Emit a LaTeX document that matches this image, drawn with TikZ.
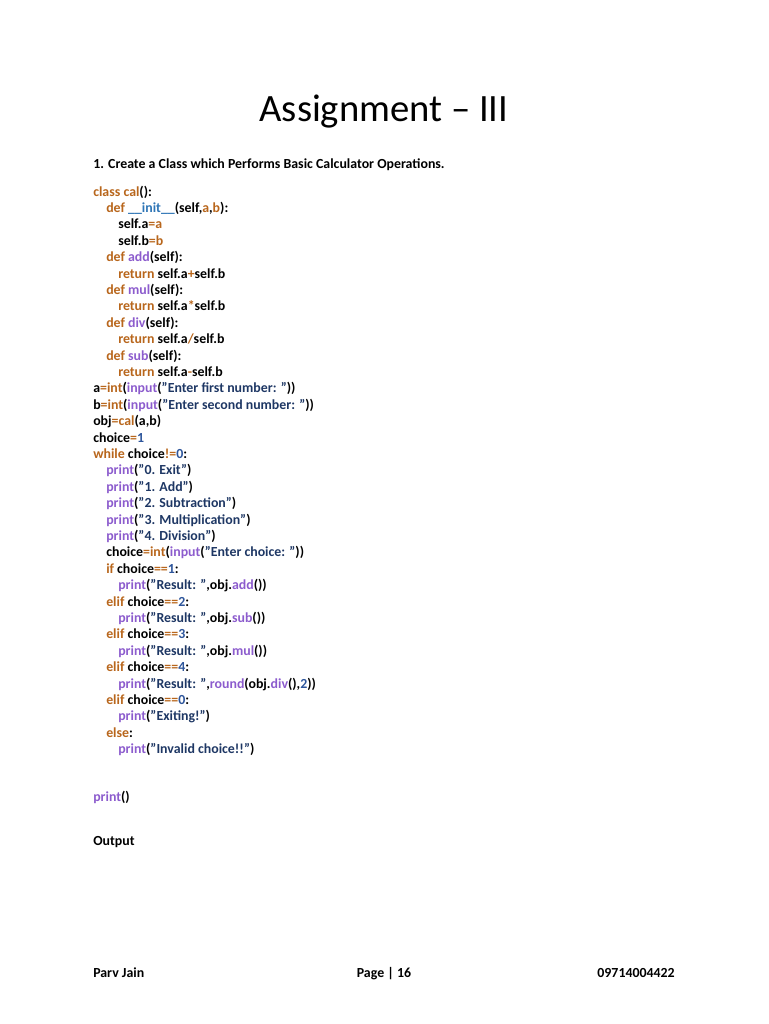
\documentclass[tikz,border=0pt]{standalone}
\usepackage{fontspec}
\setmainfont{Carlito}
\definecolor{kwc}{RGB}{184,102,28}
\definecolor{fnc}{RGB}{140,92,205}
\definecolor{stc}{RGB}{30,55,100}
\definecolor{nmc}{RGB}{45,85,155}
\definecolor{ibc}{RGB}{46,117,182}
\newcommand{\kw}[1]{\textcolor{kwc}{#1}}
\newcommand{\fn}[1]{\textcolor{fnc}{#1}}
\newcommand{\st}[1]{\textcolor{stc}{#1}}
\newcommand{\nm}[1]{\textcolor{nmc}{#1}}
\newcommand{\ib}[1]{\textcolor{ibc}{#1}}
\begin{document}
\begin{tikzpicture}[x=0.75pt,y=-0.75pt,
  code/.style={anchor=base west,inner sep=0,font=\fontsize{10.4}{12}\selectfont\bfseries}]
\useasboundingbox (0,0) rectangle (768,1024);
\node[anchor=base,inner sep=0,font=\fontsize{29}{32}\selectfont] (title) at (384,121) {Assignment – III};
\node[code] (q) at (93,168) {1. Create a Class which Performs Basic Calculator Operations.};
\def\a{93}\def\b{106}\def\c{118}
\node[code] (l1) at (\a,196) {\kw{class cal}():};
\node[code] (l2) at (\b,212.4) {\kw{def} \ib{\_\_init\_\_}(self,\kw{a},\kw{b}):};
\node[code] (l3) at (\c,228.8) {self.a\kw{=a}};
\node[code] (l4) at (\c,245.2) {self.b\kw{=b}};
\node[code] (l5) at (\b,261.6) {\kw{def} \fn{add}(self):};
\node[code] (l6) at (\c,278) {\kw{return} self.a\kw{+}self.b};
\node[code] (l7) at (\b,294.4) {\kw{def} \fn{mul}(self):};
\node[code] (l8) at (\c,310.8) {\kw{return} self.a\kw{*}self.b};
\node[code] (l9) at (\b,327.2) {\kw{def} \fn{div}(self):};
\node[code] (l10) at (\c,343.6) {\kw{return} self.a\kw{/}self.b};
\node[code] (l11) at (\b,360) {\kw{def} \fn{sub}(self):};
\node[code] (l12) at (\c,376.4) {\kw{return} self.a\kw{-}self.b};
\node[code] (l13) at (\a,392.8) {a\kw{=int}(\fn{input}(\st{"Enter first number: "}))};
\node[code] (l14) at (\a,409.2) {b\kw{=int}(\fn{input}(\st{"Enter second number: "}))};
\node[code] (l15) at (\a,425.6) {obj\kw{=cal}(a,b)};
\node[code] (l16) at (\a,442) {choice\kw{=}\nm{1}};
\node[code] (l17) at (\a,458.4) {\kw{while} choice\kw{!=}\nm{0}:};
\node[code] (l18) at (\b,474.8) {\fn{print}(\st{"0. Exit"})};
\node[code] (l19) at (\b,491.2) {\fn{print}(\st{"1. Add"})};
\node[code] (l20) at (\b,507.6) {\fn{print}(\st{"2. Subtraction"})};
\node[code] (l21) at (\b,524) {\fn{print}(\st{"3. Multiplication"})};
\node[code] (l22) at (\b,540.4) {\fn{print}(\st{"4. Division"})};
\node[code] (l23) at (\b,556.8) {choice\kw{=int}(\fn{input}(\st{"Enter choice: "}))};
\node[code] (l24) at (\b,573.2) {\kw{if} choice\kw{==}\nm{1}:};
\node[code] (l25) at (\c,589.6) {\fn{print}(\st{"Result: "},obj.\fn{add}())};
\node[code] (l26) at (\b,606) {\kw{elif} choice\kw{==}\nm{2}:};
\node[code] (l27) at (\c,622.4) {\fn{print}(\st{"Result: "},obj.\fn{sub}())};
\node[code] (l28) at (\b,638.8) {\kw{elif} choice\kw{==}\nm{3}:};
\node[code] (l29) at (\c,655.2) {\fn{print}(\st{"Result: "},obj.\fn{mul}())};
\node[code] (l30) at (\b,671.6) {\kw{elif} choice\kw{==}\nm{4}:};
\node[code] (l31) at (\c,688) {\fn{print}(\st{"Result: "},\fn{round}(obj.\fn{div}(),\nm{2}))};
\node[code] (l32) at (\b,704.4) {\kw{elif} choice\kw{==}\nm{0}:};
\node[code] (l33) at (\c,720.8) {\fn{print}(\st{"Exiting!"})};
\node[code] (l34) at (\b,737.2) {\kw{else}:};
\node[code] (l35) at (\c,753.6) {\fn{print}(\st{"Invalid choice!!"})};
\node[code] (l36) at (\a,801) {\fn{print}()};
\node[code] (out) at (\a,845) {Output};
\node[code] (f1) at (93,977) {Parv Jain};
\node[code,anchor=base] (f2) at (384,977) {Page | 16};
\node[code,anchor=base east] (f3) at (675,977) {09714004422};
\end{tikzpicture}
\end{document}
